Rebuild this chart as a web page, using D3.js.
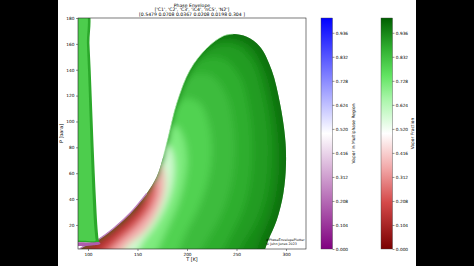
<!DOCTYPE html>
<html>
<head>
<meta charset="utf-8">
<script src="https://cdn.jsdelivr.net/npm/d3@7"></script>
<style>
body { margin: 0; background: #000; }
svg { display: block; }
text { font-family: "DejaVu Sans", sans-serif; fill: #000; }
</style>
</head>
<body>
<script>
const w = 474
const h = 266
const plot = { x0: 78, x1: 306, y0: 18, y1: 249 }

// ---- data ----
const components = ["'C1'", "'C2'", "'C3'", "'iC4'", "'nC5'", "'N2'"]
const moleFractions = ["0.5479", "0.0708", "0.0367", "0.0208", "0.0198", "0.304 "]
const tTicks = [100, 150, 200, 250, 300]
const pTicks = [20, 40, 60, 80, 100, 120, 140, 160, 180]
const cbTicks = [0.000, 0.104, 0.208, 0.312, 0.416, 0.520, 0.624, 0.728, 0.832, 0.936]

// colormap stops (value, colour)
const fractionStops = [[0, "#7a0000"], [0.2, "#d44848"], [0.35, "#f2a8a8"], [0.5, "#ffffff"],
	[0.65, "#a8f5a8"], [0.75, "#62e462"], [0.87, "#2fae2f"], [1, "#005f00"]]
const multiStops = [[0, "#800080"], [0.5, "#ffffff"], [1, "#0000ff"]]

// envelope edge, T [K] / P [bara]
const bubbleEdge = [[91, -3], [91.9, 1.5], [108.8, 8], [125.6, 17.3], [142.4, 29], [159.3, 44.4],
	[169.4, 57.2], [176, 72.7], [181.1, 88.2], [189.6, 114], [203, 139.8], [219.9, 156.6],
	[236.7, 166.1], [246.8, 167.6]]
const dewEdge = [[260.3, 165.5], [273.7, 157.8], [285.5, 139.8], [293.9, 114], [299, 88.2],
	[300, 67.6], [297.3, 44.4], [290.6, 23.7], [282.1, 8.2], [277, -3]]

// quality lines: each starts on the bubble edge and runs down to the bottom
const qualityLevels = [0.93, 0.9, 0.87, 0.84, 0.79, 0.71, 0.58, 0.36, 0.22, 0.12]
const qualityLines = [
	[[232, 164], [248, 164], [264, 158], [278, 140], [287, 114], [292, 88], [293, 66], [290, 44], [283, 24], [274, 8], [269, -3]],
	[[218, 155], [233, 159], [250, 158], [266, 146], [277, 120], [283, 90], [283, 64], [279, 42], [270, 22], [258, 7], [251, -3]],
	[[206, 143], [220, 149], [238, 148], [254, 134], [263, 108], [266, 80], [264, 54], [257, 32], [246, 14], [234, -3]],
	[[197, 130], [210, 137], [226, 135], [240, 120], [247, 96], [248, 70], [243, 46], [233, 25], [220, 8], [212, -3]],
	[[189, 112], [200, 118], [213, 114], [222, 98], [225, 76], [221, 54], [211, 32], [199, 14], [190, -3]],
	[[183, 96], [190, 96], [197, 86], [200, 70], [197, 52], [190, 34], [180, 17], [168, -3]],
	[[178, 82], [184, 78], [187, 66], [185, 50], [178, 34], [167, 19], [155, 7], [148, -3]],
	[[173, 68], [177, 60], [177, 46], [170, 30], [157, 15], [141, 5], [132, -3]],
	[[167, 55], [169, 46], [163, 33], [150, 20], [133, 8], [118, -3]],
	[[158, 42], [156, 34], [145, 23], [128, 11], [108, -3]]
]

// left (low temperature) band
const leftBand = [[85, 185], [100.3, 185], [101.5, 160], [102.7, 140], [103.7, 120], [104.7, 100],
	[105.7, 80], [106.8, 60], [108, 40], [109.4, 20], [110.5, 10], [111, 7], [104, 6.2], [95, 6.6], [85, 7]]
const leftBandCore = [[85, 185], [97.8, 185], [98.9, 160], [100, 140], [100.9, 120], [101.8, 100],
	[102.7, 80], [103.7, 60], [104.8, 40], [106.2, 20], [107.4, 10], [107.6, 7.8], [95, 7.8], [85, 8]]
const leftBandLevels = [0.88, 0.8]
const multiphaseBand = [[85, 6.9], [104, 6.4], [111.5, 6.6], [112.5, 5.3], [104, 4.2], [92, 3.8], [85, 3.8]]

// ---- chart ----
const svg = d3.select("body").append("svg")
	.attr("width", w)
	.attr("height", h)

svg.append("rect").attr("x", 58).attr("y", 0).attr("width", 358).attr("height", h).attr("fill", "#fff")

let xScale = d3.scaleLinear().domain([89.9, 320.2]).range([plot.x0, plot.x1])
let yScale = d3.scaleLinear().domain([1.4, 180]).range([plot.y1, plot.y0])

let makeCmap = stops => d3.scaleLinear()
	.domain(stops.map(s => s[0]))
	.range(stops.map(s => s[1]))
	.interpolate(d3.interpolateRgb)
	.clamp(true)
let fracColor = makeCmap(fractionStops)
let multiColor = makeCmap(multiStops)

const defs = svg.append("defs")
defs.append("clipPath").attr("id", "plotClip")
	.append("rect")
	.attr("x", plot.x0).attr("y", plot.y0)
	.attr("width", plot.x1 - plot.x0).attr("height", plot.y1 - plot.y0)
defs.append("filter").attr("id", "soft").attr("x", "-20%").attr("y", "-20%").attr("width", "140%").attr("height", "140%")
	.append("feGaussianBlur").attr("stdDeviation", 3.6)
defs.append("filter").attr("id", "soft2").attr("x", "-20%").attr("y", "-20%").attr("width", "140%").attr("height", "140%")
	.append("feGaussianBlur").attr("stdDeviation", 0.7)

let line = d3.line()
	.x(d => xScale(d[0]))
	.y(d => yScale(d[1]))
	.curve(d3.curveCatmullRom)

let outline = bubbleEdge.concat(dewEdge)
let regionFor = arc => bubbleEdge.filter(p => p[1] < arc[0][1]).concat(arc)

const plotArea = svg.append("g").attr("clip-path", "url(#plotClip)")

// envelope base + blurred quality layers, clipped to the envelope
defs.append("clipPath").attr("id", "envClip")
	.append("path").attr("d", line(outline) + "Z")

plotArea.append("path")
	.attr("d", line(outline) + "Z")
	.attr("fill", fracColor(0.97))

const envLayers = plotArea.append("g").attr("clip-path", "url(#envClip)")
	.append("g").attr("filter", "url(#soft)")

envLayers.append("path")
	.attr("d", line(outline) + "Z")
	.attr("fill", fracColor(0.97))

envLayers.selectAll("path.q")
	.data(qualityLines)
	.enter()
	.append("path")
	.attr("class", "q")
	.attr("d", d => line(regionFor(d)) + "Z")
	.attr("fill", (d, i) => fracColor(qualityLevels[i]))

// thin light rim on the upper left edge
plotArea.append("path")
	.attr("d", line(bubbleEdge.filter(p => p[1] > 70)))
	.attr("fill", "none")
	.attr("stroke", "#b8f2b8")
	.attr("stroke-width", 0.7)

// multiphase streak along the bubble line
plotArea.append("path")
	.attr("d", line(bubbleEdge.filter(p => p[1] < 50)))
	.attr("fill", "none")
	.attr("stroke", multiColor(0.25))
	.attr("stroke-width", 1.4)
	.attr("filter", "url(#soft2)")

// low temperature band
const bandG = plotArea.append("g")
bandG.append("path")
	.attr("d", line(leftBand) + "Z")
	.attr("fill", fracColor(leftBandLevels[0]))
bandG.append("path")
	.attr("d", line(leftBandCore) + "Z")
	.attr("fill", fracColor(leftBandLevels[1]))
	.attr("filter", "url(#soft2)")
bandG.append("path")
	.attr("d", line(multiphaseBand) + "Z")
	.attr("fill", multiColor(0.18))
	.attr("filter", "url(#soft2)")

// frame
svg.append("rect")
	.attr("x", plot.x0).attr("y", plot.y0)
	.attr("width", plot.x1 - plot.x0).attr("height", plot.y1 - plot.y0)
	.attr("fill", "none")
	.attr("stroke", "#222")
	.attr("stroke-width", 0.6)

let styleAxis = g => {
	g.selectAll("path").remove()
	g.selectAll("line").attr("stroke", "#222").attr("stroke-width", 0.5)
	g.selectAll("text").attr("font-size", 4.3).attr("font-family", "DejaVu Sans").attr("fill", "#222")
}

svg.append("g")
	.attr("transform", "translate(0," + plot.y1 + ")")
	.call(d3.axisBottom(xScale).tickValues(tTicks).tickSize(2).tickPadding(1.5))
	.call(styleAxis)

svg.append("g")
	.attr("transform", "translate(" + plot.x0 + ",0)")
	.call(d3.axisLeft(yScale).tickValues(pTicks).tickSize(2).tickPadding(1.5))
	.call(styleAxis)

// titles
const titleLines = ["Phase Envelope", "[" + components.join(", ") + "]", "[" + moleFractions.join(" ") + "]"]
svg.selectAll("text.title")
	.data(titleLines)
	.enter()
	.append("text")
	.attr("class", "title")
	.attr("x", (plot.x0 + plot.x1) / 2)
	.attr("y", (d, i) => 6.8 + i * 4.6)
	.attr("text-anchor", "middle")
	.attr("font-size", 4.6)
	.text(d => d)

svg.append("text")
	.attr("x", (plot.x0 + plot.x1) / 2)
	.attr("y", 261)
	.attr("text-anchor", "middle")
	.attr("font-size", 4.8)
	.text("T [K]")

svg.append("text")
	.attr("transform", "translate(63," + ((plot.y0 + plot.y1) / 2) + ") rotate(-90)")
	.attr("text-anchor", "middle")
	.attr("font-size", 4.8)
	.text("P [bara]")

// watermark
svg.append("text").attr("x", 266).attr("y", 240.5).attr("font-size", 3.3).attr("fill", "#333").text("#PhaseEnvelopePlotter")
svg.append("text").attr("x", 266).attr("y", 244.5).attr("font-size", 3.3).attr("fill", "#333").text("© John Jones 2023")

// colorbars
let cbScale = d3.scaleLinear().domain([0, 1]).range([plot.y1, plot.y0])

let drawColorbar = function(id, x, stops, label, labelX) {
	let grad = defs.append("linearGradient")
		.attr("id", id)
		.attr("x1", 0).attr("y1", 1).attr("x2", 0).attr("y2", 0)
	grad.selectAll("stop")
		.data(stops)
		.enter()
		.append("stop")
		.attr("offset", d => d[0])
		.attr("stop-color", d => d[1])

	svg.append("rect")
		.attr("x", x).attr("y", plot.y0)
		.attr("width", 11.5).attr("height", plot.y1 - plot.y0)
		.attr("fill", "url(#" + id + ")")
		.attr("stroke", "#444")
		.attr("stroke-width", 0.4)

	svg.append("g")
		.attr("transform", "translate(" + (x + 11.5) + ",0)")
		.call(d3.axisRight(cbScale).tickValues(cbTicks).tickFormat(d3.format(".3f")).tickSize(2).tickPadding(1.3))
		.call(styleAxis)

	svg.append("text")
		.attr("transform", "translate(" + labelX + "," + ((plot.y0 + plot.y1) / 2) + ") rotate(-90)")
		.attr("text-anchor", "middle")
		.attr("font-size", 4.4)
		.text(label)
}

drawColorbar("gradMulti", 321, multiStops, "Vapor in Multiphase Region", 354.5)
drawColorbar("gradFrac", 381, fractionStops, "Vapor Fraction", 414)
</script>
</body>
</html>
